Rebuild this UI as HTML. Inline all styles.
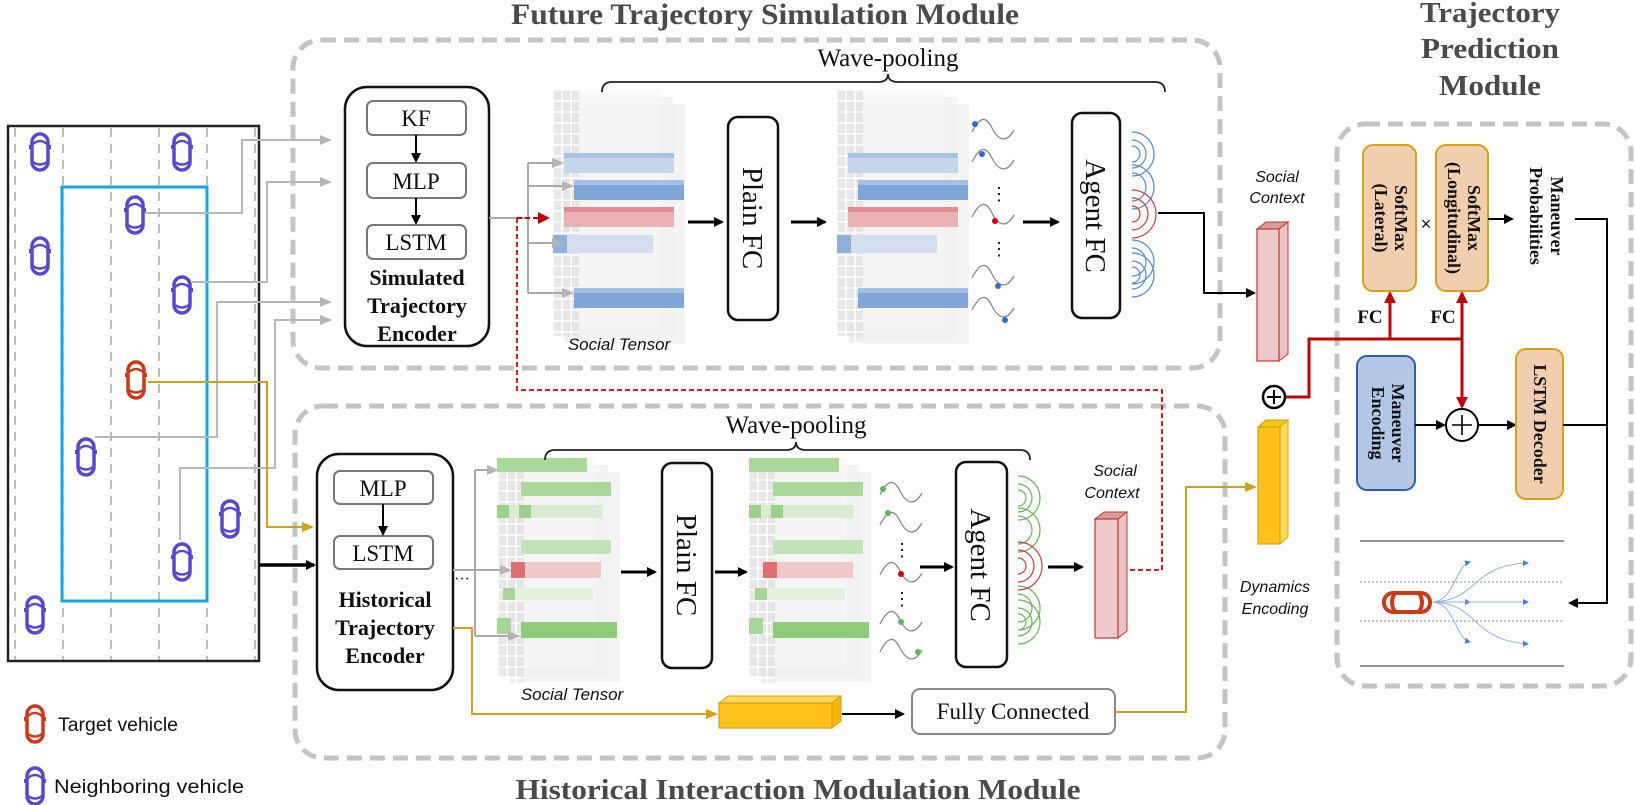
<!DOCTYPE html>
<html><head><meta charset="utf-8"><style>
html,body{margin:0;padding:0;background:#fff;}
svg{display:block;}
.ser{font-family:"Liberation Serif",serif;}
.san{font-family:"Liberation Sans",sans-serif;}
</style></head><body>
<svg width="1635" height="805" viewBox="0 0 1635 805" xmlns="http://www.w3.org/2000/svg">
<defs>
<marker id="ab" markerWidth="10" markerHeight="10" refX="8" refY="5" orient="auto" markerUnits="userSpaceOnUse"><path d="M0,0 L10,5 L0,10 z" fill="#000"/></marker>
<marker id="ag" markerWidth="12" markerHeight="10" refX="10" refY="5" orient="auto" markerUnits="userSpaceOnUse"><path d="M0,0 L12,5 L0,10 z" fill="#b5b5b5"/></marker>
<marker id="ay" markerWidth="12" markerHeight="10" refX="10" refY="5" orient="auto" markerUnits="userSpaceOnUse"><path d="M0,0 L12,5 L0,10 z" fill="#d4a017"/></marker>
<marker id="ar" markerWidth="12" markerHeight="12" refX="10" refY="6" orient="auto" markerUnits="userSpaceOnUse"><path d="M0,0 L12,6 L0,12 z" fill="#c00000"/></marker>
<marker id="abl" markerWidth="6" markerHeight="6" refX="5" refY="3" orient="auto" markerUnits="userSpaceOnUse"><path d="M0,0 L6,3 L0,6 z" fill="#4a7fd0"/></marker>
<pattern id="cells" width="9" height="11" patternUnits="userSpaceOnUse"><rect x="0" y="0" width="9" height="11" fill="#e3e3e3" stroke="#fff" stroke-width="1.5"/></pattern>
<symbol id="car" viewBox="0 0 24 40" width="24" height="40" overflow="visible">
<rect x="4" y="2" width="16" height="36" rx="8" fill="none" stroke="currentColor" stroke-width="3.5"/>
<path d="M5,12 Q12,6 19,12 M5,30 Q12,35 19,30" fill="none" stroke="currentColor" stroke-width="2.5"/>
<rect x="1" y="13" width="3" height="4" fill="currentColor"/><rect x="20" y="13" width="3" height="4" fill="currentColor"/>
</symbol>
<g id="tgridT">
<rect x="24" y="14" width="108" height="240" fill="#f4f4f4"/>
<rect x="12" y="7" width="108" height="240" fill="#f1f1f1" opacity=".8"/>
<rect x="0" y="0" width="108" height="240" fill="#f6f6f6" opacity=".7"/>
<rect x="0" y="0" width="26" height="246" fill="url(#cells)" opacity=".8"/>
<rect x="12" y="7" width="14" height="246" fill="url(#cells)" opacity=".6"/>
</g>
<g id="tgridB">
<rect x="24" y="14" width="98" height="210" fill="#f4f4f4"/>
<rect x="12" y="7" width="98" height="210" fill="#f1f1f1" opacity=".8"/>
<rect x="0" y="0" width="98" height="210" fill="#f6f6f6" opacity=".7"/>
<rect x="0" y="0" width="26" height="218" fill="url(#cells)" opacity=".8"/>
<rect x="12" y="7" width="14" height="218" fill="url(#cells)" opacity=".6"/>
</g>
<g id="barsT">
<rect x="11" y="63" width="110" height="20" fill="#c6d6ea"/><rect x="11" y="63" width="110" height="5" fill="#a9c2e0"/>
<rect x="21" y="90" width="110" height="20" fill="#7fa6d6"/><rect x="21" y="90" width="110" height="5" fill="#a7c1e3"/>
<rect x="11" y="117" width="110" height="20" fill="#eab2b4"/><rect x="11" y="117" width="110" height="5" fill="#e08c90"/>
<rect x="0" y="145" width="100" height="18" fill="#d4e0ef"/><rect x="0" y="145" width="14" height="18" fill="#8fb0da"/>
<rect x="21" y="198" width="110" height="20" fill="#7fa6d6"/><rect x="21" y="198" width="110" height="5" fill="#a7c1e3"/>
</g>
<g id="barsB">
<rect x="0" y="0" width="90" height="14" fill="#a9d89a"/><rect x="24" y="24" width="90" height="14" fill="#a9d89a"/>
<rect x="0" y="47" width="105" height="13" fill="#d8ecd1"/><rect x="0" y="47" width="12" height="13" fill="#9dd08d"/><rect x="22" y="47" width="12" height="13" fill="#9dd08d"/>
<rect x="24" y="82" width="90" height="14" fill="#c3e3b8"/>
<rect x="14" y="104" width="90" height="16" fill="#f1c9c9"/><rect x="14" y="104" width="14" height="16" fill="#e07070"/>
<rect x="6" y="130" width="90" height="12" fill="#e4f1de"/><rect x="6" y="130" width="12" height="12" fill="#a7d59a"/>
<rect x="24" y="164" width="96" height="16" fill="#8ecb7a"/><rect x="0" y="160" width="14" height="16" fill="#a7d59a"/>
</g>
<g id="waveT" fill="none" stroke="#888" stroke-width="1.3">
<path d="M0,10 C8,-6 14,-6 20,6 C26,18 34,22 42,8"/>
</g>
</defs>

<!-- Titles -->
<text class="ser" x="765" y="24" font-size="30" font-weight="bold" fill="#4a4a4a" text-anchor="middle" textLength="508" lengthAdjust="spacingAndGlyphs">Future Trajectory Simulation Module</text>
<text class="ser" x="798" y="799" font-size="29" font-weight="bold" fill="#4a4a4a" text-anchor="middle" textLength="565" lengthAdjust="spacingAndGlyphs">Historical Interaction Modulation Module</text>
<g class="ser" font-size="28" font-weight="bold" fill="#4a4a4a" text-anchor="middle">
<text x="1490" y="22" textLength="140" lengthAdjust="spacingAndGlyphs">Trajectory</text>
<text x="1490" y="58" textLength="138" lengthAdjust="spacingAndGlyphs">Prediction</text>
<text x="1490" y="95" textLength="102" lengthAdjust="spacingAndGlyphs">Module</text>
</g>

<!-- dashed module boxes -->
<g fill="none" stroke="#c4c4c4" stroke-width="5" stroke-dasharray="15,8">
<rect x="293" y="40" width="927" height="328" rx="28"/>
<rect x="295" y="406" width="930" height="352" rx="28"/>
<rect x="1337" y="124" width="294" height="562" rx="28"/>
</g>

<!-- Road -->
<rect x="8" y="126" width="251" height="535" fill="#fff" stroke="#222" stroke-width="2.5"/>
<g stroke="#999" stroke-width="1.3" stroke-dasharray="9,7">
<line x1="15" y1="128" x2="15" y2="660"/><line x1="63" y1="128" x2="63" y2="660"/><line x1="111" y1="128" x2="111" y2="660"/><line x1="159" y1="128" x2="159" y2="660"/><line x1="207" y1="128" x2="207" y2="660"/><line x1="255" y1="128" x2="255" y2="660"/>
</g>
<rect x="62" y="187" width="145" height="414" fill="none" stroke="#1ba5df" stroke-width="3"/>

<!-- gray connectors from cars -->
<g fill="none" stroke="#b8b8b8" stroke-width="2">
<polyline points="145,213 242,213 242,140 330,140" marker-end="url(#ag)"/>
<polyline points="192,282 267,282 267,182 330,182" marker-end="url(#ag)"/>
<polyline points="95,437 217,437 217,302 330,302" marker-end="url(#ag)"/>
<polyline points="180,540 180,468 275,468 275,320 330,320" marker-end="url(#ag)"/>
</g>
<polyline points="148,382 267,382 267,527 312,527" fill="none" stroke="#d4a017" stroke-width="2" marker-end="url(#ay)"/>
<line x1="260" y1="565" x2="314" y2="565" stroke="#000" stroke-width="3.5" marker-end="url(#ab)"/>

<!-- cars -->
<g style="color:#5a48cc">
<use href="#car" x="28" y="132"/><use href="#car" x="170" y="132"/><use href="#car" x="123" y="195"/><use href="#car" x="28" y="236"/><use href="#car" x="170" y="275"/><use href="#car" x="74" y="437"/><use href="#car" x="218" y="499"/><use href="#car" x="170" y="542"/><use href="#car" x="23" y="595"/>
<use href="#car" x="23" y="766"/>
</g>
<g style="color:#c83a1a"><use href="#car" x="124" y="360"/><use href="#car" x="23" y="704"/></g>
<text class="san" x="58" y="731" font-size="19" fill="#111" textLength="120" lengthAdjust="spacingAndGlyphs">Target vehicle</text>
<text class="san" x="54" y="793" font-size="19" fill="#111" textLength="190" lengthAdjust="spacingAndGlyphs">Neighboring vehicle</text>

<!-- Top encoder -->
<rect x="345" y="87" width="144" height="259" rx="22" fill="#fff" stroke="#111" stroke-width="2.5"/>
<g fill="#fff" stroke="#777" stroke-width="2">
<rect x="367" y="101" width="99" height="34" rx="6"/><rect x="367" y="163" width="99" height="35" rx="6"/><rect x="367" y="225" width="99" height="34" rx="6"/>
</g>
<g class="ser" font-size="23" text-anchor="middle" fill="#111">
<text x="416" y="126">KF</text><text x="416" y="189">MLP</text><text x="416" y="250">LSTM</text>
</g>
<line x1="416" y1="135" x2="416" y2="161" stroke="#000" stroke-width="2" marker-end="url(#ab)"/>
<line x1="416" y1="198" x2="416" y2="223" stroke="#000" stroke-width="2" marker-end="url(#ab)"/>
<g class="ser" font-size="22" font-weight="bold" text-anchor="middle" fill="#111">
<text x="417" y="285">Simulated</text><text x="417" y="313">Trajectory</text><text x="417" y="341">Encoder</text>
</g>

<!-- Top tensor area -->
<use href="#tgridT" x="553" y="90"/>
<use href="#barsT" x="553" y="90"/>
<use href="#tgridT" x="837" y="90"/>
<use href="#barsT" x="837" y="90"/>
<g fill="none" stroke="#aaa" stroke-width="2">
<line x1="489" y1="218" x2="528" y2="218"/>
<line x1="528" y1="163" x2="528" y2="293"/>
<line x1="528" y1="163" x2="562" y2="163" marker-end="url(#ag)"/>
<line x1="528" y1="186" x2="572" y2="186" marker-end="url(#ag)"/>
<line x1="528" y1="243" x2="562" y2="243" marker-end="url(#ag)"/>
<line x1="528" y1="293" x2="572" y2="293" marker-end="url(#ag)"/>
</g>
<line x1="517" y1="218" x2="548" y2="218" stroke="#c00000" stroke-width="2" stroke-dasharray="5,3" marker-end="url(#ar)"/>
<polyline points="517,218 517,390 1162,390 1162,570 1129,570" fill="none" stroke="#d00000" stroke-width="1.8" stroke-dasharray="5,3"/>
<text class="san" x="619" y="350" font-size="17" font-style="italic" text-anchor="middle" fill="#111">Social Tensor</text>

<text class="ser" x="888" y="66" font-size="25" text-anchor="middle" fill="#111">Wave-pooling</text>
<path d="M602,92 Q602,82 612,82 L878,82 Q888,82 888,74 Q888,82 898,82 L1155,82 Q1165,82 1165,92" fill="none" stroke="#222" stroke-width="1.8"/>

<line x1="688" y1="222" x2="722" y2="222" stroke="#000" stroke-width="3" marker-end="url(#ab)"/>
<rect x="728" y="117" width="50" height="203" rx="10" fill="#fff" stroke="#111" stroke-width="2.5"/>
<text class="ser" font-size="29" fill="#111" text-anchor="middle" transform="translate(743,218) rotate(90)">Plain FC</text>
<line x1="791" y1="222" x2="825" y2="222" stroke="#000" stroke-width="3" marker-end="url(#ab)"/>

<!-- top waves -->
<g>
<use href="#waveT" x="972" y="122"/><use href="#waveT" x="972" y="152"/><use href="#waveT" x="972" y="207"/><use href="#waveT" x="972" y="268"/><use href="#waveT" x="972" y="300"/>
<circle cx="975" cy="124" r="3" fill="#2e6bd1"/><circle cx="982" cy="154" r="3" fill="#2e6bd1"/><circle cx="995" cy="221" r="3" fill="#d00000"/><circle cx="998" cy="286" r="3" fill="#2e6bd1"/><circle cx="1005" cy="320" r="3" fill="#2e6bd1"/>
<text class="ser" x="990" y="200" font-size="18" fill="#111">⋮</text><text class="ser" x="990" y="255" font-size="18" fill="#111">⋮</text>
</g>
<line x1="1023" y1="222" x2="1058" y2="222" stroke="#000" stroke-width="3" marker-end="url(#ab)"/>
<rect x="1072" y="113" width="48" height="205" rx="10" fill="#fff" stroke="#111" stroke-width="2.5"/>
<text class="ser" font-size="29" fill="#111" text-anchor="middle" transform="translate(1086,216) rotate(90)">Agent FC</text>
<g fill="none" stroke-width="1.2">
<g stroke="#5b8ac8"><path d="M1132,132 a22,22 0 0 1 0,44 M1132,140 a14,14 0 0 1 0,28 M1132,146 a8,8 0 0 1 0,16 M1132,165 a22,22 0 0 1 0,44 M1132,173 a14,14 0 0 1 0,28 M1132,240 a22,22 0 0 1 0,44 M1132,248 a14,14 0 0 1 0,28 M1132,253 a22,22 0 0 1 0,44 M1132,261 a14,14 0 0 1 0,28 M1132,267 a8,8 0 0 1 0,16"/></g>
<g stroke="#c24040"><path d="M1132,190 a24,24 0 0 1 0,48 M1132,198 a16,16 0 0 1 0,32 M1132,206 a8,8 0 0 1 0,16"/></g>
</g>
<polyline points="1158,213 1204,213 1204,293 1254,293" fill="none" stroke="#000" stroke-width="2" marker-end="url(#ab)"/>

<!-- top social context -->
<text class="san" x="1277" y="182" font-size="16" font-style="italic" text-anchor="middle" fill="#111">Social</text>
<text class="san" x="1277" y="203" font-size="16" font-style="italic" text-anchor="middle" fill="#111">Context</text>
<path d="M1257,229 L1266,222 L1288,222 L1279,229 z" fill="#d99a9e" stroke="#c0392b" stroke-width="1"/>
<path d="M1279,229 L1288,222 L1288,354 L1279,361 z" fill="#e8c2c4" stroke="#c0392b" stroke-width="1"/>
<rect x="1257" y="229" width="22" height="132" fill="#efc9cb" stroke="#c0392b" stroke-width="1.2"/>

<!-- plus + red path -->
<circle cx="1274" cy="397" r="11" fill="#fff" stroke="#000" stroke-width="2.5"/>
<path d="M1267,397 h14 M1274,390 v14" stroke="#000" stroke-width="2"/>
<polyline points="1286,397 1309,397 1309,339 1462,339" fill="none" stroke="#c00000" stroke-width="3"/>
<line x1="1390" y1="339" x2="1390" y2="293" stroke="#c00000" stroke-width="3" marker-end="url(#ar)"/>
<line x1="1462" y1="339" x2="1462" y2="293" stroke="#c00000" stroke-width="3" marker-end="url(#ar)"/>
<line x1="1462" y1="339" x2="1462" y2="407" stroke="#c00000" stroke-width="3" marker-end="url(#ar)"/>
<text class="ser" x="1370" y="323" font-size="19" font-weight="bold" text-anchor="middle" fill="#111">FC</text>
<text class="ser" x="1443" y="323" font-size="19" font-weight="bold" text-anchor="middle" fill="#111">FC</text>

<!-- dynamics encoding block -->
<path d="M1258,427 L1266,420 L1288,420 L1280,427 z" fill="#f5c518" stroke="#d4a017"/>
<path d="M1280,427 L1288,420 L1288,537 L1280,544 z" fill="#ffd95a" stroke="#d4a017"/>
<rect x="1258" y="427" width="22" height="117" fill="#ffc11a" stroke="#d4a017" stroke-width="1.2"/>
<text class="san" x="1275" y="592" font-size="16" font-style="italic" text-anchor="middle" fill="#111">Dynamics</text>
<text class="san" x="1275" y="614" font-size="16" font-style="italic" text-anchor="middle" fill="#111">Encoding</text>

<!-- Prediction module -->
<rect x="1363" y="145" width="53" height="146" rx="10" fill="#f1cfae" stroke="#d4a21f" stroke-width="2"/>
<rect x="1436" y="145" width="52" height="146" rx="10" fill="#f1cfae" stroke="#d4a21f" stroke-width="2"/>
<g class="ser" font-size="18" font-weight="bold" fill="#111" text-anchor="middle">
<text transform="translate(1395,218) rotate(90)">SoftMax</text>
<text transform="translate(1375,218) rotate(90)">(Lateral)</text>
<text transform="translate(1468,218) rotate(90)">SoftMax</text>
<text transform="translate(1448,218) rotate(90)">(Longitudinal)</text>
<text transform="translate(1551,216) rotate(90)">Maneuver</text>
<text transform="translate(1530,216) rotate(90)">Probabilities</text>
</g>
<text class="san" x="1426" y="230" font-size="18" text-anchor="middle" fill="#111">×</text>
<line x1="1488" y1="219" x2="1512" y2="219" stroke="#000" stroke-width="2" marker-end="url(#ab)"/>
<polyline points="1575,219 1607,219 1607,603 1570,603" fill="none" stroke="#000" stroke-width="2" marker-end="url(#ab)"/>
<rect x="1357" y="356" width="58" height="134" rx="10" fill="#b4c7e7" stroke="#2e5fa5" stroke-width="2"/>
<g class="ser" font-size="18" font-weight="bold" fill="#111" text-anchor="middle">
<text transform="translate(1392,423) rotate(90)">Maneuver</text>
<text transform="translate(1372,423) rotate(90)">Encoding</text>
</g>
<line x1="1415" y1="425" x2="1444" y2="425" stroke="#000" stroke-width="2" marker-end="url(#ab)"/>
<circle cx="1462" cy="425" r="16" fill="#fff" stroke="#000" stroke-width="2"/>
<path d="M1452,425 h20 M1462,415 v20" stroke="#000" stroke-width="1.6"/>
<line x1="1478" y1="425" x2="1515" y2="425" stroke="#000" stroke-width="2" marker-end="url(#ab)"/>
<rect x="1516" y="349" width="47" height="150" rx="10" fill="#f1cfae" stroke="#d4a21f" stroke-width="2"/>
<text class="ser" font-size="18" font-weight="bold" fill="#111" text-anchor="middle" transform="translate(1534,424) rotate(90)">LSTM Decoder</text>
<line x1="1563" y1="425" x2="1607" y2="425" stroke="#000" stroke-width="2"/>
<line x1="1360" y1="541" x2="1564" y2="541" stroke="#555" stroke-width="1.2"/>
<line x1="1360" y1="666" x2="1564" y2="666" stroke="#555" stroke-width="1.2"/>
<line x1="1360" y1="582" x2="1564" y2="582" stroke="#888" stroke-width="1" stroke-dasharray="2,2"/>
<line x1="1360" y1="621" x2="1564" y2="621" stroke="#888" stroke-width="1" stroke-dasharray="2,2"/>
<g fill="none" stroke="#c83a1a" stroke-width="4">
<rect x="1384" y="593" width="46" height="19" rx="9"/><path d="M1395,593 Q1389,602 1395,612 M1419,593 Q1425,602 1419,612"/>
</g>
<g fill="none" stroke="#8fb0e0" stroke-width="1" marker-end="url(#abl)">
<path d="M1433,602 C1455,600 1455,566 1470,562"/>
<path d="M1433,602 C1480,600 1470,565 1528,563"/>
<path d="M1433,602 L1470,602"/>
<path d="M1433,602 L1528,602"/>
<path d="M1433,602 C1455,604 1455,638 1470,642"/>
<path d="M1433,602 C1480,604 1470,640 1528,644"/>
</g>

<!-- Bottom encoder -->
<rect x="317" y="454" width="136" height="236" rx="22" fill="#fff" stroke="#111" stroke-width="2.5"/>
<g fill="#fff" stroke="#777" stroke-width="2">
<rect x="334" y="471" width="99" height="33" rx="6"/><rect x="334" y="536" width="99" height="33" rx="6"/>
</g>
<g class="ser" font-size="23" text-anchor="middle" fill="#111">
<text x="383" y="496">MLP</text><text x="383" y="561">LSTM</text>
</g>
<line x1="383" y1="504" x2="383" y2="534" stroke="#000" stroke-width="2" marker-end="url(#ab)"/>
<g class="ser" font-size="22" font-weight="bold" text-anchor="middle" fill="#111">
<text x="385" y="607">Historical</text><text x="385" y="635">Trajectory</text><text x="385" y="663">Encoder</text>
</g>

<!-- bottom tensors -->
<use href="#tgridB" x="498" y="458"/>
<use href="#barsB" x="497" y="458"/>
<use href="#tgridB" x="749" y="458"/>
<use href="#barsB" x="749" y="458"/>
<g fill="none" stroke="#aaa" stroke-width="2">
<line x1="453" y1="570" x2="475" y2="570"/>
<line x1="475" y1="470" x2="475" y2="636"/>
<line x1="475" y1="470" x2="497" y2="470" marker-end="url(#ag)"/>
<line x1="475" y1="570" x2="510" y2="570" marker-end="url(#ag)"/>
<line x1="475" y1="636" x2="518" y2="636" marker-end="url(#ag)"/>
</g>
<text class="ser" x="462" y="584" font-size="16" text-anchor="middle" fill="#111">···</text>
<text class="san" x="572" y="700" font-size="17" font-style="italic" text-anchor="middle" fill="#111">Social Tensor</text>
<text class="ser" x="796" y="433" font-size="25" text-anchor="middle" fill="#111">Wave-pooling</text>
<path d="M545,460 Q545,450 555,450 L786,450 Q796,450 796,442 Q796,450 806,450 L1020,450 Q1030,450 1030,460" fill="none" stroke="#222" stroke-width="1.8"/>
<line x1="621" y1="572" x2="655" y2="572" stroke="#000" stroke-width="3" marker-end="url(#ab)"/>
<rect x="662" y="463" width="50" height="205" rx="10" fill="#fff" stroke="#111" stroke-width="2.5"/>
<text class="ser" font-size="29" fill="#111" text-anchor="middle" transform="translate(677,565) rotate(90)">Plain FC</text>
<line x1="715" y1="572" x2="746" y2="572" stroke="#000" stroke-width="3" marker-end="url(#ab)"/>
<g>
<use href="#waveT" x="880" y="485"/><use href="#waveT" x="880" y="515"/><use href="#waveT" x="880" y="565"/><use href="#waveT" x="880" y="614"/><use href="#waveT" x="880" y="642"/>
<circle cx="883" cy="489" r="3" fill="#5cb85c"/><circle cx="888" cy="513" r="3" fill="#5cb85c"/><circle cx="901" cy="574" r="3" fill="#d00000"/><circle cx="901" cy="622" r="3" fill="#5cb85c"/><circle cx="918" cy="652" r="3" fill="#5cb85c"/>
<text class="ser" x="893" y="556" font-size="18" fill="#111">⋮</text><text class="ser" x="893" y="605" font-size="18" fill="#111">⋮</text>
</g>
<line x1="920" y1="567" x2="952" y2="567" stroke="#000" stroke-width="3" marker-end="url(#ab)"/>
<rect x="956" y="462" width="51" height="205" rx="10" fill="#fff" stroke="#111" stroke-width="2.5"/>
<text class="ser" font-size="29" fill="#111" text-anchor="middle" transform="translate(971,565) rotate(90)">Agent FC</text>
<g fill="none" stroke-width="1.2">
<g stroke="#6fb060"><path d="M1018,476 a22,22 0 0 1 0,44 M1018,484 a14,14 0 0 1 0,28 M1018,490 a8,8 0 0 1 0,16 M1018,508 a22,22 0 0 1 0,44 M1018,516 a14,14 0 0 1 0,28 M1018,586 a22,22 0 0 1 0,44 M1018,594 a14,14 0 0 1 0,28 M1018,600 a22,22 0 0 1 0,44 M1018,608 a14,14 0 0 1 0,28 M1018,614 a8,8 0 0 1 0,16"/></g>
<g stroke="#c24040"><path d="M1018,542 a24,24 0 0 1 0,48 M1018,550 a16,16 0 0 1 0,32 M1018,558 a8,8 0 0 1 0,16"/></g>
</g>
<line x1="1048" y1="567" x2="1082" y2="567" stroke="#000" stroke-width="3" marker-end="url(#ab)"/>
<text class="san" x="1115" y="476" font-size="16" font-style="italic" text-anchor="middle" fill="#111">Social</text>
<text class="san" x="1112" y="498" font-size="16" font-style="italic" text-anchor="middle" fill="#111">Context</text>
<path d="M1095,519 L1104,512 L1127,512 L1118,519 z" fill="#d99a9e" stroke="#c0392b" stroke-width="1"/>
<path d="M1118,519 L1127,512 L1127,631 L1118,638 z" fill="#e8c2c4" stroke="#c0392b" stroke-width="1"/>
<rect x="1095" y="519" width="23" height="119" fill="#efc9cb" stroke="#c0392b" stroke-width="1.2"/>

<!-- bottom dynamics path -->
<polyline points="453,628 472,628 472,714 716,714" fill="none" stroke="#d4a017" stroke-width="2" marker-end="url(#ay)"/>
<path d="M719,703 L728,696 L841,696 L832,703 z" fill="#ffd95a" stroke="#d4a017"/>
<path d="M832,703 L841,696 L841,721 L832,728 z" fill="#f2b800" stroke="#d4a017"/>
<rect x="719" y="703" width="113" height="25" fill="#ffc11a" stroke="#d4a017" stroke-width="1.2"/>
<line x1="842" y1="714" x2="903" y2="714" stroke="#000" stroke-width="2" marker-end="url(#ab)"/>
<rect x="912" y="689" width="203" height="45" rx="8" fill="#fff" stroke="#888" stroke-width="2"/>
<text class="ser" x="1013" y="719" font-size="23" text-anchor="middle" fill="#111">Fully Connected</text>
<polyline points="1115,712 1186,712 1186,487 1255,487" fill="none" stroke="#d4a017" stroke-width="2" marker-end="url(#ay)"/>
</svg>
</body></html>
